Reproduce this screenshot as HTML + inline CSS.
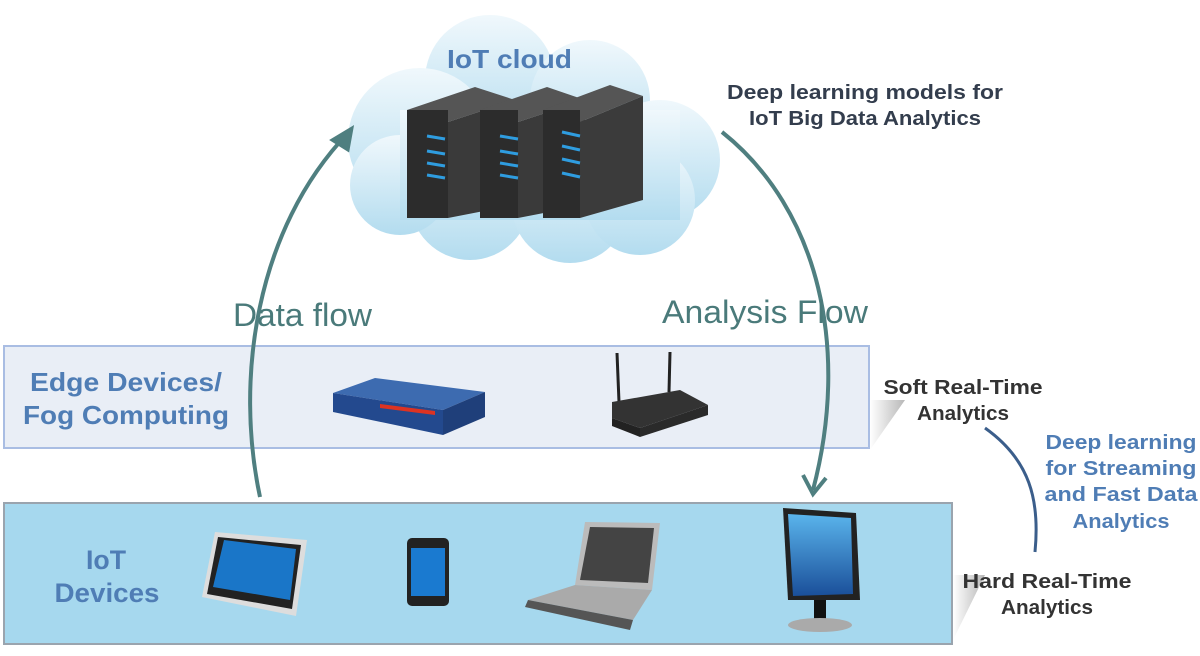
<!DOCTYPE html>
<html><head><meta charset="utf-8"><style>
body{margin:0;background:#fff;width:1200px;height:651px;overflow:hidden;font-family:"Liberation Sans",sans-serif}
</style></head><body>
<svg width="1200" height="651" viewBox="0 0 1200 651" xmlns="http://www.w3.org/2000/svg" font-family="Liberation Sans, sans-serif">
<defs>
<linearGradient id="cg" x1="0" y1="0" x2="0" y2="1"><stop offset="0" stop-color="#f0f8fc"/><stop offset="1" stop-color="#b3dcef"/></linearGradient>
<linearGradient id="sh" x1="0" y1="0" x2="1" y2="0"><stop offset="0" stop-color="#fff"/><stop offset="1" stop-color="#888"/></linearGradient>
<linearGradient id="scr" x1="0" y1="0" x2="0" y2="1"><stop offset="0" stop-color="#5ab4ec"/><stop offset="1" stop-color="#1a4f9a"/></linearGradient>
</defs>
<rect x="4" y="346" width="865" height="102" fill="#e9eef6" stroke="#a9bde3" stroke-width="2"/>
<rect x="4" y="503" width="948" height="141" fill="#a6d8ee" stroke="#9aa4ae" stroke-width="2"/>
<polygon points="870,400 905,400 870,450" fill="url(#sh)" opacity="0.6"/>
<polygon points="953,575 985,575 953,640" fill="url(#sh)" opacity="0.6"/>
<!-- cloud -->
<g fill="url(#cg)">
<circle cx="490" cy="80" r="65"/><circle cx="590" cy="100" r="60"/><circle cx="420" cy="140" r="72"/>
<circle cx="660" cy="160" r="60"/><circle cx="470" cy="200" r="60"/><circle cx="570" cy="205" r="58"/>
<circle cx="640" cy="200" r="55"/><circle cx="400" cy="185" r="50"/><rect x="400" y="110" width="280" height="110"/>
</g>
<g>
<polygon points="407,110 475,87 515,100 448,122" fill="#555"/>
<rect x="407" y="110" width="41" height="108" fill="#2c2c2c"/>
<polygon points="448,122 515,100 515,205 448,218" fill="#3a3a3a"/>
<polygon points="480,110 547,87 585,100 518,122" fill="#555"/>
<rect x="480" y="110" width="38" height="108" fill="#2c2c2c"/>
<polygon points="518,122 585,100 585,205 518,218" fill="#3a3a3a"/>
<polygon points="543,110 610,85 643,96 580,122" fill="#555"/>
<rect x="543" y="110" width="37" height="108" fill="#2c2c2c"/>
<polygon points="580,122 643,96 643,200 580,218" fill="#3b3b3b"/>
<g stroke="#2f9de0" stroke-width="3">
<line x1="427" y1="136" x2="445" y2="139"/><line x1="427" y1="151" x2="445" y2="154"/><line x1="427" y1="163" x2="445" y2="166"/><line x1="427" y1="175" x2="445" y2="178"/>
<line x1="500" y1="136" x2="518" y2="139"/><line x1="500" y1="151" x2="518" y2="154"/><line x1="500" y1="163" x2="518" y2="166"/><line x1="500" y1="175" x2="518" y2="178"/>
<line x1="562" y1="132" x2="580" y2="136"/><line x1="562" y1="146" x2="580" y2="150"/><line x1="562" y1="159" x2="580" y2="163"/><line x1="562" y1="173" x2="580" y2="177"/>
</g>
</g>
<text x="447" y="68" font-size="26" font-weight="bold" fill="#4f7db5" textLength="125" lengthAdjust="spacingAndGlyphs">IoT cloud</text>
<g stroke="#4f7f80" stroke-width="4" fill="none">
<path d="M260,497 C235,380 255,230 348,133"/>
<path d="M722,132 C820,210 850,350 813,490"/>
</g>
<polygon points="352,128 332,140 348,150" fill="#4f7f80" stroke="#4f7f80" stroke-width="3"/>
<path d="M803,475 L813,494 L826,478" stroke="#4f7f80" stroke-width="4" fill="none"/>
<text x="233" y="326" font-size="32" fill="#4a7a7a" textLength="139" lengthAdjust="spacingAndGlyphs">Data flow</text>
<text x="662" y="323" font-size="32" fill="#4a7a7a" textLength="206" lengthAdjust="spacingAndGlyphs">Analysis Flow</text>
<path d="M985,428 C1030,460 1040,500 1035,552" stroke="#3b5e8b" stroke-width="3" fill="none"/>
<g font-weight="bold" text-anchor="middle" lengthAdjust="spacingAndGlyphs">
<text x="865" y="99" font-size="20" fill="#333d4d" textLength="276" lengthAdjust="spacingAndGlyphs">Deep learning models for</text>
<text x="865" y="125" font-size="20" fill="#333d4d" textLength="232" lengthAdjust="spacingAndGlyphs">IoT Big Data Analytics</text>
<text x="126" y="391" font-size="26" fill="#4f7db5" textLength="192" lengthAdjust="spacingAndGlyphs">Edge Devices/</text>
<text x="126" y="424" font-size="26" fill="#4f7db5" textLength="206" lengthAdjust="spacingAndGlyphs">Fog Computing</text>
<text x="106" y="569" font-size="27" fill="#4f7db5" textLength="40" lengthAdjust="spacingAndGlyphs">IoT</text>
<text x="107" y="602" font-size="27" fill="#4f7db5" textLength="105" lengthAdjust="spacingAndGlyphs">Devices</text>
<text x="963" y="394" font-size="20" fill="#333" textLength="159" lengthAdjust="spacingAndGlyphs">Soft Real-Time</text>
<text x="963" y="420" font-size="20" fill="#333" textLength="92" lengthAdjust="spacingAndGlyphs">Analytics</text>
<text x="1047" y="588" font-size="20" fill="#333" textLength="169" lengthAdjust="spacingAndGlyphs">Hard Real-Time</text>
<text x="1047" y="614" font-size="20" fill="#333" textLength="92" lengthAdjust="spacingAndGlyphs">Analytics</text>
<text x="1121" y="449" font-size="20" fill="#4f7db5" textLength="151" lengthAdjust="spacingAndGlyphs">Deep learning</text>
<text x="1121" y="475" font-size="20" fill="#4f7db5" textLength="151" lengthAdjust="spacingAndGlyphs">for Streaming</text>
<text x="1121" y="501" font-size="20" fill="#4f7db5" textLength="153" lengthAdjust="spacingAndGlyphs">and Fast Data</text>
<text x="1121" y="528" font-size="20" fill="#4f7db5" textLength="97" lengthAdjust="spacingAndGlyphs">Analytics</text>
</g>
<polygon points="333,393 375,378 485,392 443,410" fill="#3d6bb0"/>
<polygon points="333,393 443,410 443,435 333,412" fill="#23498e"/>
<polygon points="443,410 485,392 485,417 443,435" fill="#1f3f7a"/>
<polygon points="380,404 435,411 435,415 380,408" fill="#d32"/>
<g stroke="#222" stroke-width="3"><line x1="617" y1="353" x2="619" y2="402"/><line x1="670" y1="352" x2="669" y2="392"/></g>
<polygon points="612,402 680,390 708,405 640,428 612,418" fill="#333"/>
<polygon points="612,418 640,428 640,437 612,426" fill="#222"/>
<polygon points="640,428 708,405 708,415 640,437" fill="#2a2a2a"/>
<polygon points="215,532 307,540 296,616 202,597" fill="#ddd"/>
<polygon points="218,537 301,545 292,609 207,594" fill="#222"/>
<polygon points="224,540 296,549 290,600 213,587" fill="#1a76c8"/>
<rect x="407" y="538" width="42" height="68" rx="5" fill="#222"/>
<rect x="411" y="548" width="34" height="48" fill="#1a7ad0"/>
<polygon points="585,522 660,523 652,590 575,585" fill="#bbb"/>
<polygon points="590,527 654,528 648,583 580,580" fill="#444"/>
<polygon points="575,585 652,590 633,620 528,600" fill="#aaa"/>
<polygon points="528,600 633,620 630,630 525,607" fill="#555"/>
<polygon points="783,508 856,513 860,600 788,600" fill="#222"/>
<polygon points="788,514 851,518 853,594 793,596" fill="url(#scr)"/>
<rect x="814" y="600" width="12" height="22" fill="#111"/>
<ellipse cx="820" cy="625" rx="32" ry="7" fill="#aaa"/>
</svg>
</body></html>
